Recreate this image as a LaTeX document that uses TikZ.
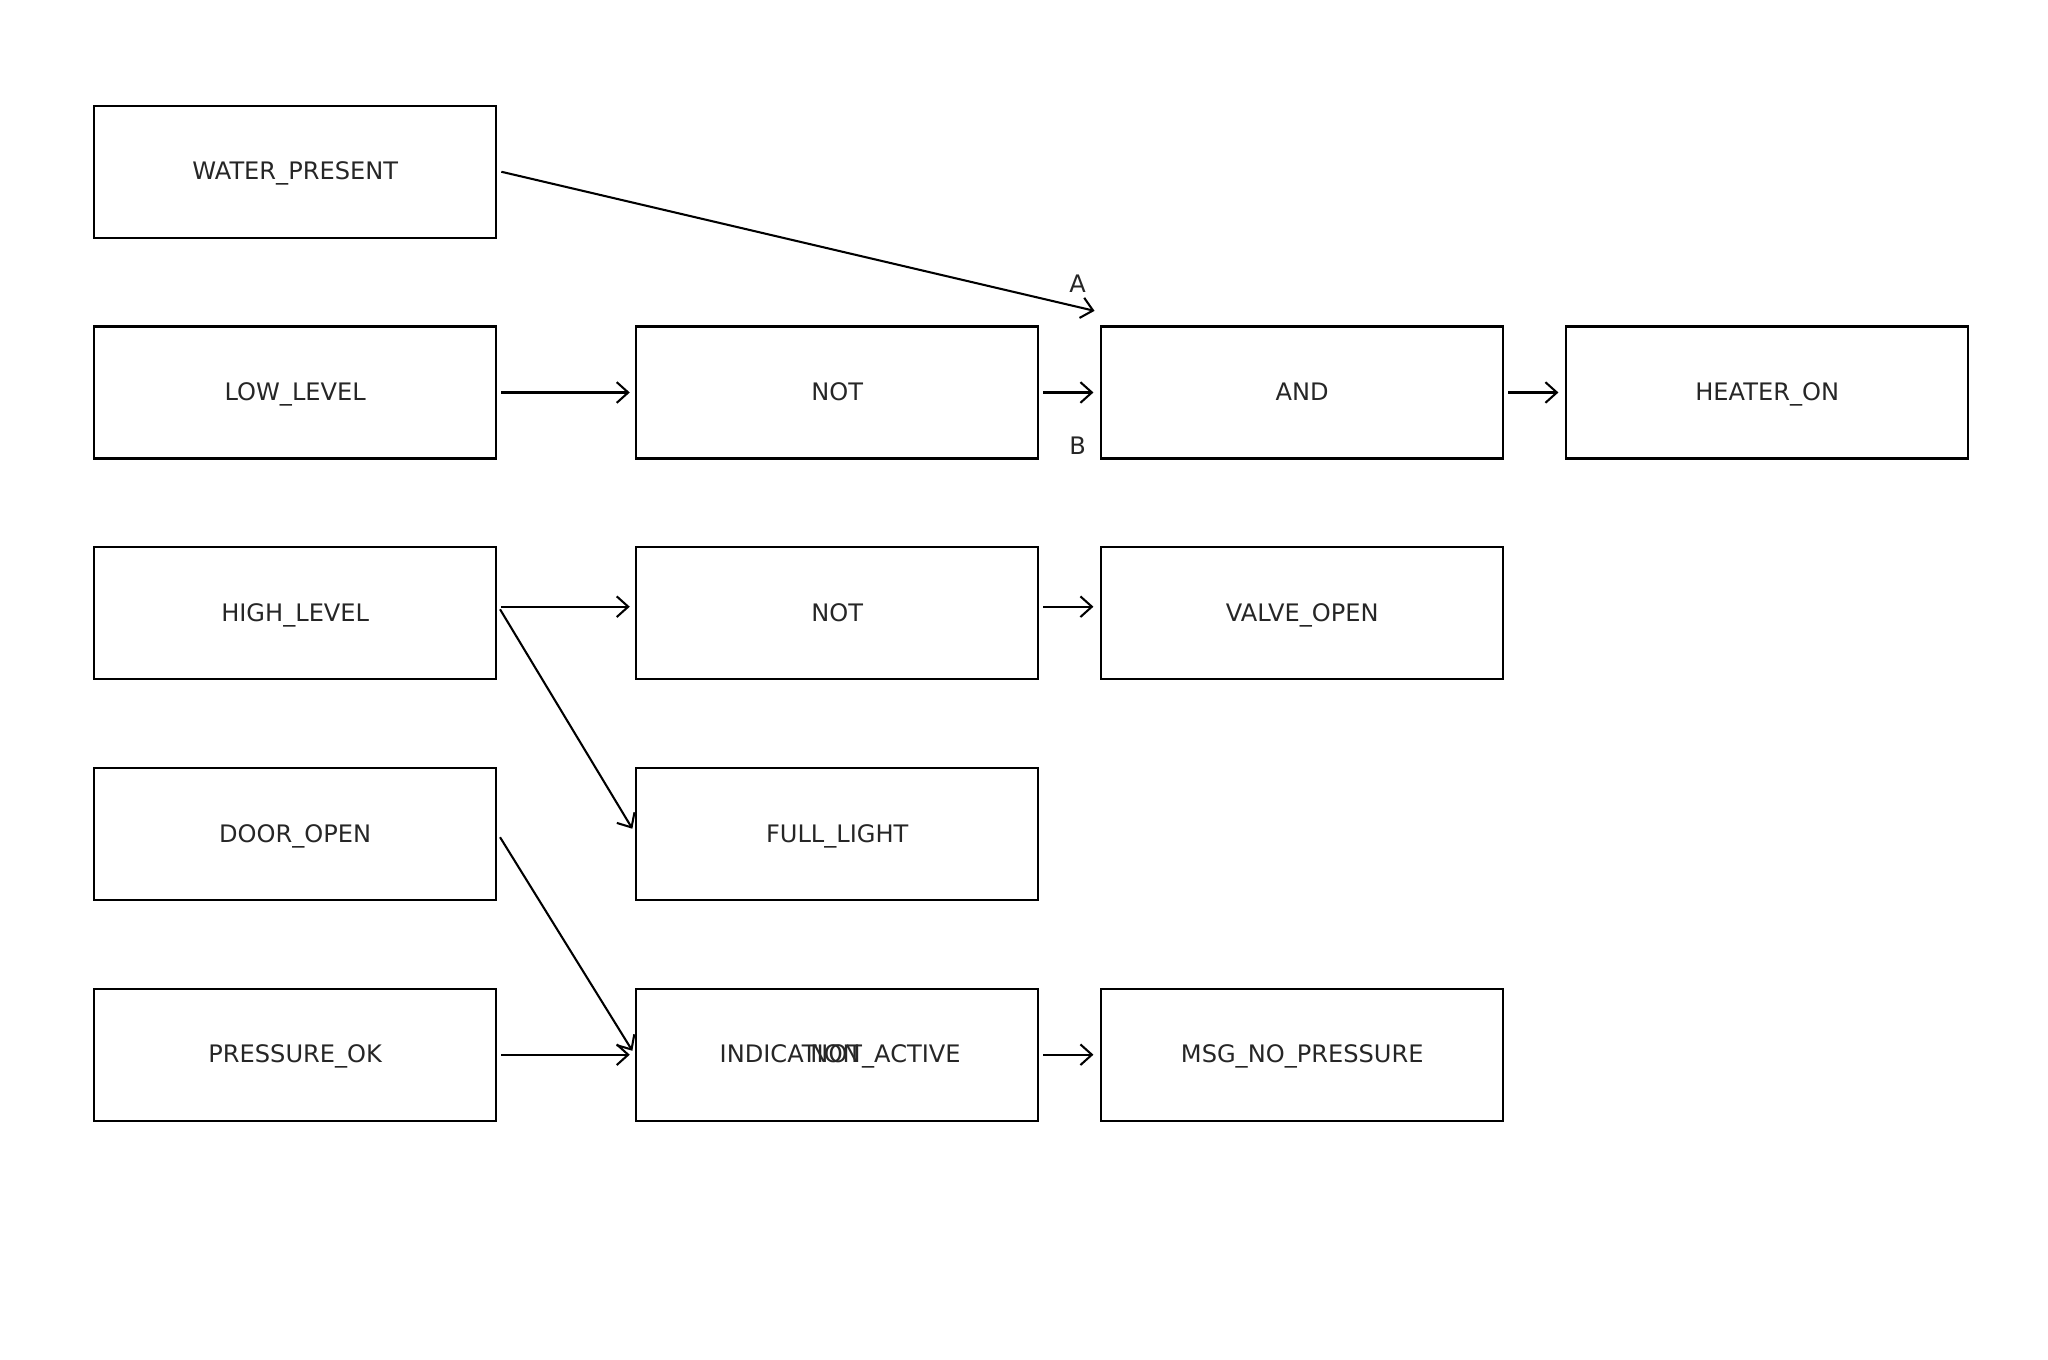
\documentclass[tikz,border=0pt]{standalone}
\usepackage{fontspec}
\setmainfont{DejaVu Sans}
\usetikzlibrary{arrows.meta}
\begin{document}
\begin{tikzpicture}[x=0.02cm,y=-0.02cm,
  box/.style={draw,line width=1pt,minimum width=6.16cm,minimum height=2.02cm,inner sep=0pt,font=\fontsize{10.5}{12}\selectfont,text=black!85,text height=7.5pt,text depth=0.5pt},
  lbl/.style={font=\fontsize{10.5}{12}\selectfont,text=black!85,inner sep=0pt,text height=7.5pt,text depth=0.5pt},
  arr/.style={line width=0.9pt,-{Straight Barb[length=5pt,width=9pt]}}]
\useasboundingbox (0,0) rectangle (1568,1041);
\node[box] (wp) at (226,131.5) {WATER\_PRESENT};
\node[box] (low) at (226,300.5) {LOW\_LEVEL};
\node[box] (high) at (226,469.5) {HIGH\_LEVEL};
\node[box] (door) at (226,638.5) {DOOR\_OPEN};
\node[box] (press) at (226,807.5) {PRESSURE\_OK};
\node[box] (not1) at (641,300.5) {NOT};
\node[box] (not2) at (641,469.5) {NOT};
\node[box] (full) at (641,638.5) {FULL\_LIGHT};
\node[box] (ind) at (641,807.5) {};
\node[lbl] (indt) at (605,807.5) {INDICATION};
\node[lbl] (nat) at (678,807.5) {NOT\_ACTIVE};
\node[box] (and) at (997,300.5) {AND};
\node[box] (valve) at (997,469.5) {VALVE\_OPEN};
\node[box] (msg) at (997,807.5) {MSG\_NO\_PRESSURE};
\node[box] (heat) at (1353,300.5) {HEATER\_ON};
\node[lbl] (la) at (825,218) {A};
\node[lbl] (lb) at (825,342) {B};
\coordinate (ain) at (838,238);
\draw[arr] ([xshift=0.06cm]wp.east) -- (ain);
\draw[arr] ([xshift=0.06cm]low.east) -- ([xshift=-0.08cm]not1.west);
\draw[arr] ([xshift=0.06cm]not1.east) -- ([xshift=-0.1cm]and.west);
\draw[arr] ([xshift=0.06cm]and.east) -- ([xshift=-0.1cm]heat.west);
\draw[arr] ([xshift=0.06cm,yshift=0.1cm]high.east) -- ([xshift=-0.08cm,yshift=0.1cm]not2.west);
\draw[arr] ([xshift=0.06cm,yshift=0.1cm]not2.east) -- ([xshift=-0.1cm,yshift=0.1cm]valve.west);
\draw[arr] ([xshift=0.04cm,yshift=0.06cm]high.east) -- ([xshift=-0.04cm,yshift=0.08cm]full.west);
\draw[arr] ([xshift=0.04cm,yshift=-0.05cm]door.east) -- ([xshift=-0.04cm,yshift=0.06cm]ind.west);
\draw[arr] ([xshift=0.06cm]press.east) -- ([xshift=-0.08cm]ind.west);
\draw[arr] ([xshift=0.06cm]ind.east) -- ([xshift=-0.1cm]msg.west);
\end{tikzpicture}
\end{document}
